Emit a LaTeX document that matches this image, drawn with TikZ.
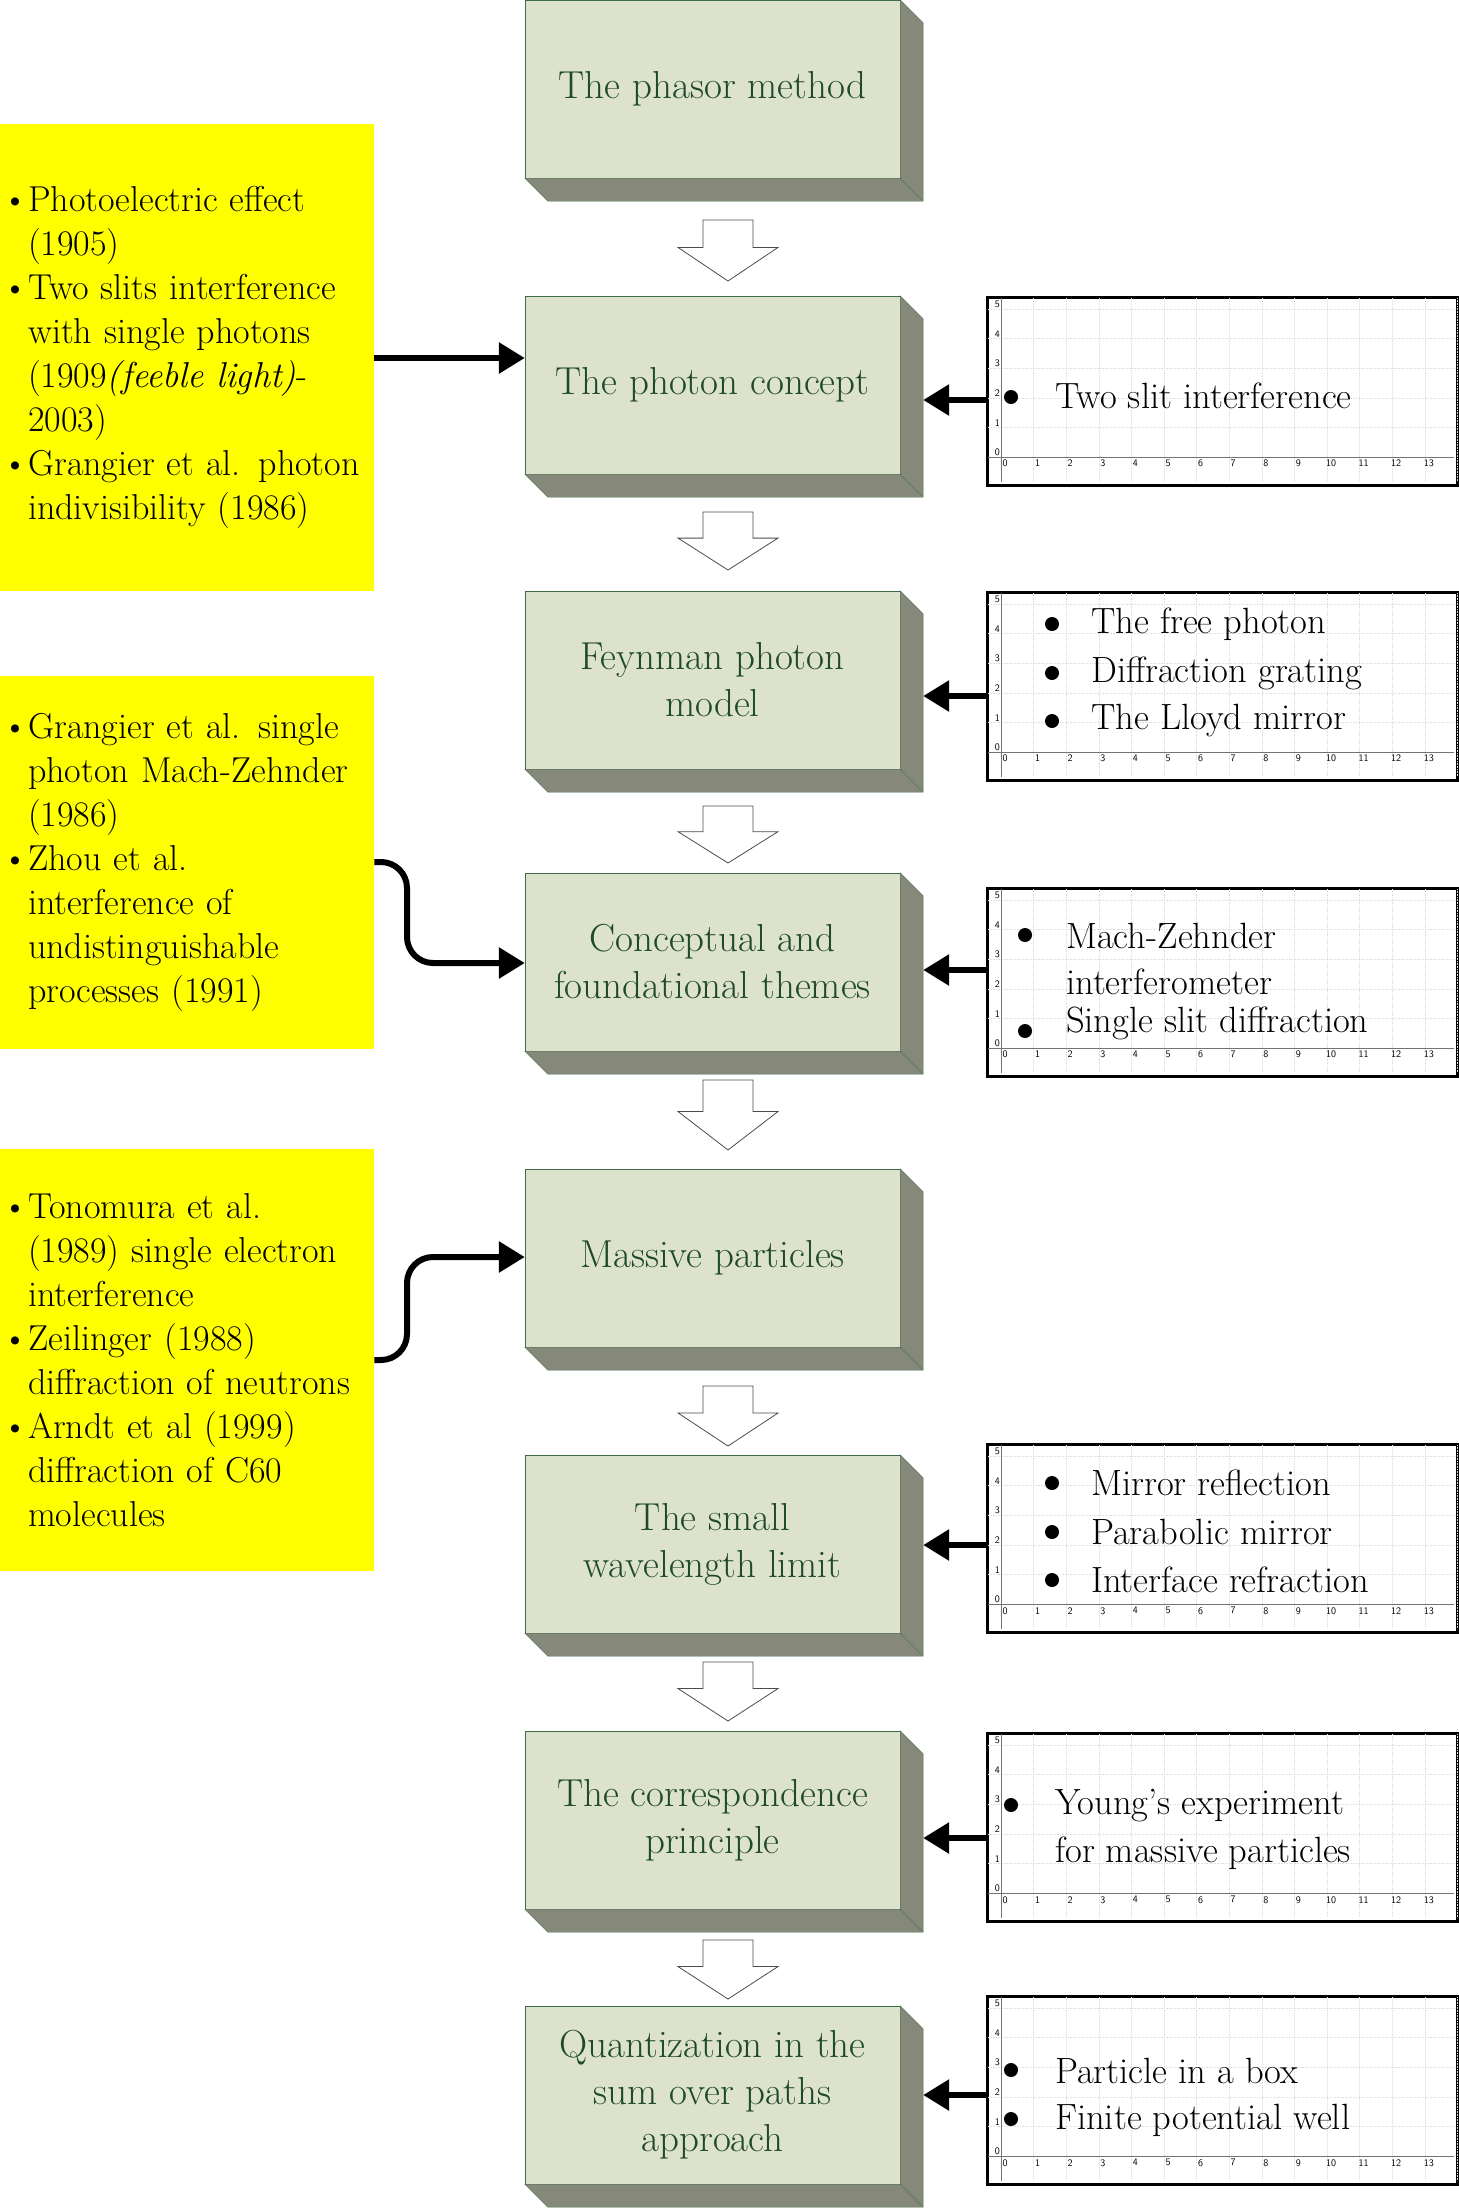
\documentclass[tikz,border=0pt]{standalone}
\usetikzlibrary{arrows.meta}
\definecolor{face}{HTML}{DDE2CC}
\definecolor{side}{HTML}{86887A}
\definecolor{edge}{HTML}{3E6B48}
\definecolor{tgreen}{HTML}{1E4A2A}
\definecolor{yel}{HTML}{FFFF00}
\begin{document}
\begin{tikzpicture}[x=1pt,y=-1pt,
  front/.style={draw=edge,fill=face,minimum width=375,minimum height=178,inner sep=0,text=tgreen,align=center,font=\fontsize{39}{47}\selectfont},
  shade3d/.style={draw=edge,fill=side},
  hollow/.style={draw=black!70,fill=white,line width=0.8},
  yellowbox/.style={fill=yel,minimum width=374,text width=370,inner xsep=2,inner ysep=0,align=left,font=\fontsize{36}{44}\selectfont},
  rbox/.style={draw=black,line width=2.5,minimum width=470,minimum height=188,inner sep=0},
  rtext/.style={anchor=west,inner sep=0,font=\fontsize{36.5}{44}\selectfont},
  dot/.style={circle,fill=black,inner sep=0,minimum size=14},
  conn/.style={line width=6,-{Triangle[length=26,width=30]}},
  glab/.style={font=\sffamily\fontsize{10}{10}\selectfont,inner sep=1}]
\useasboundingbox (0,0) rectangle (1459,2209);
\newcommand{\cbox}[3]{%
  \node[front] (#1) at (712.5,#2+89) {#3};
  \draw[shade3d] (#1.north east) -- ++(23,23) -- ++(0,178) -- ++(-23,-23) -- cycle;
  \draw[shade3d] (#1.south west) -- ++(23,23) -- ++(375,0) -- ++(-23,-23) -- cycle;}
\newcommand{\harrow}[2]{%
  \draw[hollow] (703,#1) -- (753,#1) -- (753,#1+0.45*#2-0.45*#1) -- (778,#1+0.45*#2-0.45*#1) -- (728,#2) -- (678,#1+0.45*#2-0.45*#1) -- (703,#1+0.45*#2-0.45*#1) -- cycle;}
\newcommand{\rgrid}[2]{%
  \node[rbox,anchor=north west] (#1) at (986,#2) {};
  \begin{scope}[shift={(1001,#2+161)}]
    \foreach \k in {1,...,14} \draw[black!12,densely dotted,line width=0.6] (\k*32.6,-159) -- (\k*32.6,25);
    \foreach \j in {1,...,5} \draw[black!12,densely dotted,line width=0.6] (-13,-\j*29.6) -- (453,-\j*29.6);
    \draw[black!55,line width=0.8] (0,-159) -- (0,25);
    \draw[black!55,line width=0.8] (-13,0) -- (453,0);
    \foreach \k in {0,...,13} \node[glab,anchor=north] at (\k*32.6+4,2) {\k};
    \foreach \j in {0,...,5} \node[glab,anchor=south east] at (0,-\j*29.6) {\j};
  \end{scope}
  \fill[white] (#1.north west)++(0,0) rectangle ([xshift=-1.25]#1.south west);}
% central column
\cbox{b1}{0}{The phasor method}
\cbox{b2}{296}{The photon concept}
\cbox{b3}{591}{Feynman photon\\model}
\cbox{b4}{873}{Conceptual and\\foundational themes}
\cbox{b5}{1169}{Massive particles}
\cbox{b6}{1455}{The small\\wavelength limit}
\cbox{b7}{1731}{The correspondence\\principle}
\cbox{b8}{2006}{Quantization in the\\sum over paths\\approach}
\harrow{220}{281}
\harrow{512}{570}
\harrow{806}{863}
\harrow{1080}{1150}
\harrow{1386}{1446}
\harrow{1662}{1721}
\harrow{1940}{1999}
% yellow boxes
\node[yellowbox,minimum height=467,anchor=north west] (y1) at (0,124) {%
\textbullet Photoelectric effect\\\phantom{\textbullet}(1905)\\\textbullet Two slits interference\\\phantom{\textbullet}with single photons\\\phantom{\textbullet}(1909\textit{(feeble light)}-\\\phantom{\textbullet}2003)\\\textbullet Grangier et al. photon\\\phantom{\textbullet}indivisibility (1986)};
\node[yellowbox,minimum height=373,anchor=north west] (y2) at (0,676) {%
\textbullet Grangier et al. single\\\phantom{\textbullet}photon Mach-Zehnder\\\phantom{\textbullet}(1986)\\\textbullet Zhou et al.\\\phantom{\textbullet}interference of\\\phantom{\textbullet}undistinguishable\\\phantom{\textbullet}processes (1991)};
\node[yellowbox,minimum height=422,anchor=north west] (y3) at (0,1149) {%
\textbullet Tonomura et al.\\\phantom{\textbullet}(1989) single electron\\\phantom{\textbullet}interference\\\textbullet Zeilinger (1988)\\\phantom{\textbullet}diffraction of neutrons\\\textbullet Arndt et al (1999)\\\phantom{\textbullet}diffraction of C60\\\phantom{\textbullet}molecules};
\coordinate (y2o) at (y2.north east|-0,862);
\coordinate (y3o) at (y3.north east|-0,1360);
\draw[conn] (y1.east|-0,358) -- (b2.west|-0,358);
\draw[conn,rounded corners=26] (y2o) -- (407,862) -- (407,963) -- (b4.west|-0,963);
\draw[conn,rounded corners=26] (y3o) -- (407,1360) -- (407,1257) -- (b5.west|-0,1257);
% right boxes
\rgrid{r1}{296}
\rgrid{r2}{591}
\rgrid{r3}{887}
\rgrid{r4}{1443}
\rgrid{r5}{1732}
\rgrid{r6}{1995}
\node[dot] (d1) at (1011,397) {};
\node[rtext] (t1) at (1055,396) {Two slit interference};
\node[dot] (d2a) at (1052,624) {}; \node[rtext] at (1091,624) {The free photon};
\node[dot] (d2b) at (1052,673) {}; \node[rtext] at (1091,673) {Diffraction grating};
\node[dot] (d2c) at (1052,721) {}; \node[rtext] at (1091,721) {The Lloyd mirror};
\node[dot] (d3a) at (1025,935) {}; \node[rtext] at (1066,936) {Mach-Zehnder};
\node[rtext] at (1066,982) {interferometer};
\node[dot] (d3b) at (1025,1031) {}; \node[rtext] at (1066,1023) {Single slit diffraction};
\node[dot] (d4a) at (1052,1483) {}; \node[rtext] at (1091,1483) {Mirror reflection};
\node[dot] (d4b) at (1052,1532) {}; \node[rtext] at (1091,1532) {Parabolic mirror};
\node[dot] (d4c) at (1052,1580) {}; \node[rtext] at (1091,1580) {Interface refraction};
\node[dot] (d5a) at (1011,1805) {}; \node[rtext] at (1055,1806) {Young's experiment};
\node[rtext] at (1055,1853) {for massive particles};
\node[dot] (d6a) at (1011,2070) {}; \node[rtext] at (1055,2071) {Particle in a box};
\node[dot] (d6b) at (1011,2119) {}; \node[rtext] at (1055,2120) {Finite potential well};
\draw[conn] (r1.west|-0,400) -- ([xshift=23]b2.east|-0,400);
\draw[conn] (r2.west|-0,696) -- ([xshift=23]b3.east|-0,696);
\draw[conn] (r3.west|-0,970) -- ([xshift=23]b4.east|-0,970);
\draw[conn] (r4.west|-0,1545) -- ([xshift=23]b6.east|-0,1545);
\draw[conn] (r5.west|-0,1838) -- ([xshift=23]b7.east|-0,1838);
\draw[conn] (r6.west|-0,2095) -- ([xshift=23]b8.east|-0,2095);
\end{tikzpicture}
\end{document}
